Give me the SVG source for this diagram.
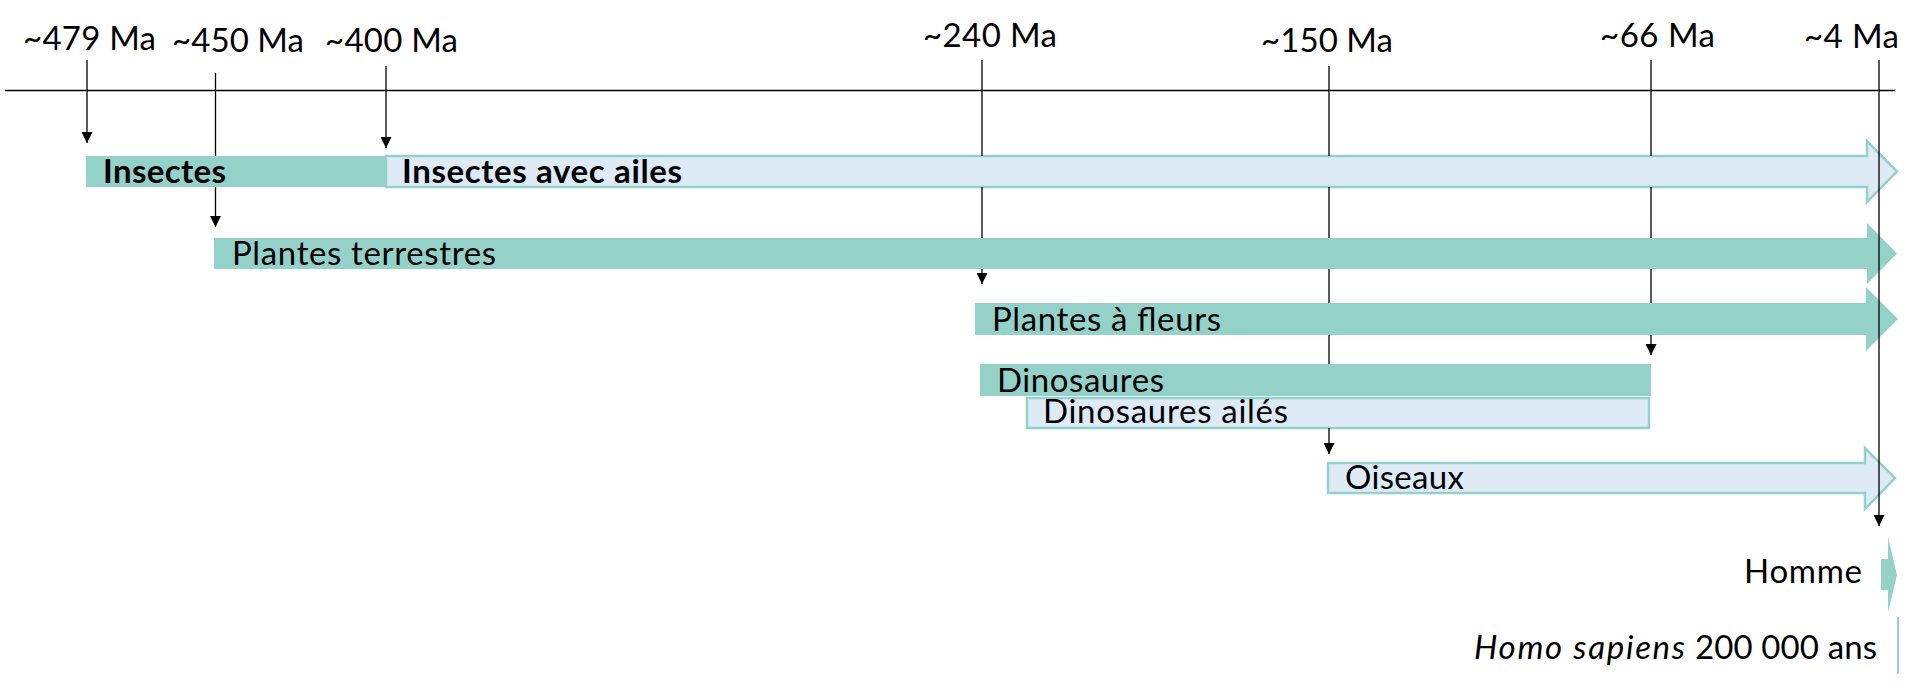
<svg xmlns="http://www.w3.org/2000/svg" width="1923" height="694" viewBox="0 0 1923 694">
<style>
.lbl{font-family:Lato,"Liberation Sans",sans-serif;font-size:33px;fill:#000}
.b{font-weight:bold}
.teal{fill:#94D2C9;stroke:none}
.light{fill:#DEEBF7;stroke:#94D2C9;stroke-width:2.5}
.tick{stroke:#000;stroke-width:1.3;fill:none}
</style>
<defs>
<marker id="ah" markerUnits="userSpaceOnUse" markerWidth="11" markerHeight="11" refX="11" refY="5.5" orient="auto" viewBox="0 0 11 11">
<path d="M0,0 L11,5.5 L0,11 z" fill="#000"/>
</marker>
</defs>
<rect width="1923" height="694" fill="#fff"/>
<g id="axis">
<line x1="5" y1="90.5" x2="1895" y2="90.5" stroke="#000" stroke-width="1.5"/>
<text class="lbl" x="23" y="50" textLength="133">~479 Ma</text>
<text class="lbl" x="172" y="52" textLength="132">~450 Ma</text>
<text class="lbl" x="325" y="52" textLength="133">~400 Ma</text>
<text class="lbl" x="923" y="47" textLength="134">~240 Ma</text>
<text class="lbl" x="1261" y="52" textLength="132">~150 Ma</text>
<text class="lbl" x="1600" y="47" textLength="115">~66 Ma</text>
<text class="lbl" x="1804" y="48" textLength="95">~4 Ma</text>
</g>
<g id="insectes">
<rect class="teal" x="86" y="156" width="300" height="31"/>
<text class="lbl b" x="103" y="183" textLength="123">Insectes</text>
</g>
<g id="insectes-ailes">
<polygon class="light" points="386,156 1867,156 1867,141 1897,171.5 1867,202 1867,187 386,187"/>
<text class="lbl b" x="402" y="183" textLength="280">Insectes avec ailes</text>
</g>
<g id="plantes-terrestres">
<polygon class="teal" points="214,238 1867,238 1867,223 1897,253.5 1867,284 1867,269 214,269"/>
<text class="lbl" x="232" y="265" textLength="264">Plantes terrestres</text>
</g>
<g id="plantes-fleurs">
<polygon class="teal" points="975,303 1866,303 1866,287 1898,319 1866,351 1866,335 975,335"/>
<text class="lbl" x="992" y="331" textLength="229">Plantes à fleurs</text>
</g>
<g id="dinosaures">
<rect class="teal" x="980" y="364" width="671" height="32"/>
<text class="lbl" x="997" y="392" textLength="167">Dinosaures</text>
</g>
<g id="dinosaures-ailes">
<rect class="light" x="1027" y="398" width="622" height="30"/>
<text class="lbl" x="1043" y="423" textLength="245">Dinosaures ailés</text>
</g>
<g id="oiseaux">
<polygon class="light" points="1328,463 1865,463 1865,448 1895,478 1865,509 1865,493 1328,493"/>
<text class="lbl" x="1345" y="489" textLength="119">Oiseaux</text>
</g>
<g id="homme">
<polygon class="teal" points="1881,559 1888,559 1888,537 1897,575 1888,612 1888,590 1881,590"/>
<text class="lbl" x="1744" y="583" textLength="118">Homme</text>
</g>
<g id="homo-sapiens">
<line x1="1898" y1="617" x2="1898" y2="674" stroke="#94D2C9" stroke-width="2"/>
<text class="lbl" y="659"><tspan x="1474" font-style="italic" textLength="211">Homo sapiens</tspan><tspan x="1695" textLength="182">200 000 ans</tspan></text>
</g>
<g id="connectors">
<path class="tick" d="M87,60 V143" marker-end="url(#ah)"/>
<path class="tick" d="M215.5,73 V156 M215.5,187 V227" marker-end="url(#ah)"/>
<path class="tick" d="M386,66 V148" marker-end="url(#ah)"/>
<path class="tick" d="M982,60 V156 M982,187 V238 M982,269 V284" marker-end="url(#ah)"/>
<path class="tick" d="M1329,66 V156 M1329,187 V238 M1329,269 V303 M1329,335 V364 M1329,428 V454" marker-end="url(#ah)"/>
<path class="tick" d="M1651,60 V156 M1651,187 V238 M1651,269 V303 M1651,335 V355" marker-end="url(#ah)"/>
<path class="tick" d="M1879,60 V526" marker-end="url(#ah)"/>
</g>
</svg>
